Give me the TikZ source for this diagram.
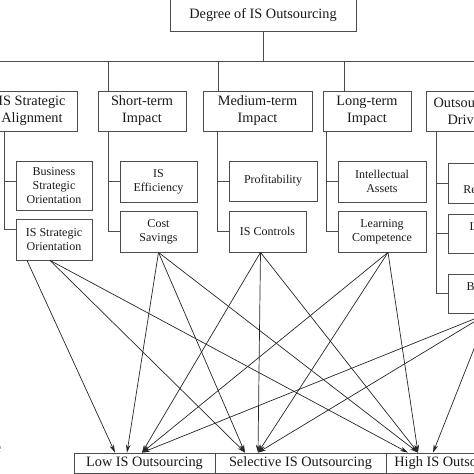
\documentclass[tikz,border=0pt]{standalone}
\usepackage{fontspec}
\setmainfont{Liberation Serif}
\usetikzlibrary{arrows.meta}
\begin{document}
\begin{tikzpicture}[x=1pt,y=-1pt,
    box/.style={draw=black!70,line width=0.8pt,align=center,inner sep=0pt,
      text=black!90,font=\fontsize{14.3}{17}\selectfont},
    subbox/.style={box,font=\fontsize{12}{14}\selectfont},
    link/.style={draw=black!70,line width=0.8pt},
    arr/.style={black!85,line width=0.7pt,-{Stealth[length=8pt,width=4.5pt]}}]
  \useasboundingbox (0,0) rectangle (474,474);
  \node[box,minimum width=186pt,minimum height=32pt] (deg) at (263,15) {Degree of IS Outsourcing};
  \foreach \n/\x/\w/\t in {isa/32/90/{IS Strategic\\Alignment}, st/142/88/{Short-term\\Impact},
      mt/257.5/109/{Medium-term\\Impact}, lt/367/88/{Long-term\\Impact}, od/469/86/{Outsourcing\\Drivers}}
    \node[box,minimum width=\w pt,minimum height=40pt] (\n) at (\x,111) {\t};
  \foreach \n/\x/\y/\w/\h/\t in {bso/54/185.5/76/49/{Business\\Strategic\\Orientation},
      iso/54/239.5/76/41/{IS Strategic\\Orientation}, ise/158.5/181.5/77/41/{IS\\Efficiency},
      cs/158.5/231.5/77/41/{Cost\\Savings}, prof/273/181/88/40/{Profitability},
      isc/267.5/231.5/77/41/{IS Controls}, ia/382/181.5/88/41/{Intellectual\\Assets},
      lc/382/231.5/88/41/{Learning\\Competence}, cr/488/183/80/40/{Cost\\Reduction},
      le/488/233.5/80/39/{Lack of\\Skills}, bf/488/293.5/80/39/{Business\\Focus}}
    \node[subbox,minimum width=\w pt,minimum height=\h pt] (\n) at (\x,\y) {\t};
  \foreach \n/\x/\w/\t in {low/144.5/141/{Low IS Outsourcing}, sel/300.5/171/{Selective IS Outsourcing},
      high/454/136/{High IS Outsourcing}}
    \node[box,minimum width=\w pt,minimum height=20pt] (\n) at (\x,463) {\t};
  \node[anchor=east,text=black!45,font=\fontsize{14.3}{17}\selectfont] (note) at (5,449) {e};
  % tree
  \coordinate (barL) at (-2,61);
  \coordinate (barR) at (476,61);
  \draw[link] (deg.south) -- (deg.south |- barL);
  \draw[link] (barL) -- (barR);
  \foreach \n/\s in {isa/4,st/11,mt/16,lt/22,od/50}
    \draw[link] ([xshift=\s pt]\n.north west) -- ([xshift=\s pt]\n.north west |- barL);
  \draw[link] ([xshift=-11pt]bso.west |- isa.south) |- ([yshift=10pt]iso.west)
    ([xshift=-11pt,yshift=4pt]bso.west) -- ([yshift=4pt]bso.west);
  \foreach \top/\a/\b in {st/ise/cs, mt/prof/isc, lt/ia/lc}
    \draw[link] ([xshift=-11pt]\a.west |- \top.south) |- (\b.west)
      ([xshift=-11pt]\a.west) -- (\a.west);
  \draw[link] ([xshift=-11pt]cr.west |- od.south) |- (bf.west)
    ([xshift=-11pt]cr.west) -- (cr.west) ([xshift=-11pt]le.west) -- (le.west);
  % influences
  \foreach \s/\ds/\t/\dt in {iso/-27/low/-29.5, iso/-4/sel/-55.5, iso/-4/high/-46,
      cs/0/low/-17.5, cs/0/sel/-55.5, cs/0/high/-36,
      isc/-7/low/-2.5, isc/-7/sel/-42.5, isc/-7/high/-36,
      lc/6/low/-2.5, lc/6/sel/-42.5, lc/6/high/-36,
      bf/0/low/-2.5, bf/0/sel/-42.5, bf/0/high/-21}
    \draw[arr] ([xshift=\ds pt]\s.south) -- ([xshift=\dt pt]\t.north);
\end{tikzpicture}
\end{document}
